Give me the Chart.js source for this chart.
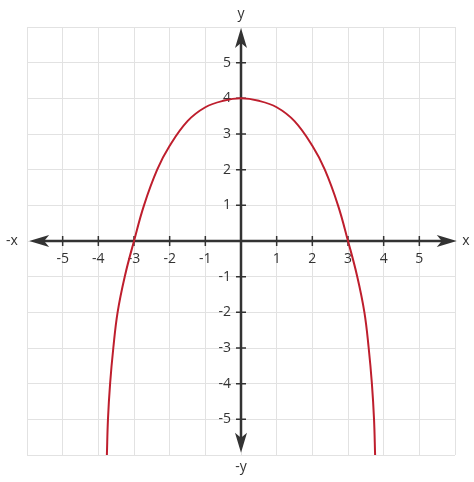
<!DOCTYPE html>
<html>
<head>
<meta charset="utf-8">
<script src="https://cdn.jsdelivr.net/npm/chart.js@4.4.1/dist/chart.umd.min.js"></script>
<style>
  html, body { margin: 0; padding: 0; background: #ffffff; }
</style>
</head>
<body>
<canvas id="myChart" width="474" height="482"></canvas>
<script>
// points
const curveX = [-3.76, -3.73, -3.67, -3.58, -3.46, -3.26, -3, -2.72, -2.35, -2, -1.5, -1, -0.5, 0,
                0.5, 1, 1.5, 2, 2.35, 2.72, 3, 3.26, 3.46, 3.58, 3.67, 3.73, 3.76];
const curveY = [-6, -5, -4, -3, -2, -1, 0, 1, 2, 2.67, 3.36, 3.75, 3.93, 4,
                3.93, 3.75, 3.36, 2.67, 2, 1, 0, -1, -2, -3, -4, -5, -6];

const xTicks = [-5, -4, -3, -2, -1, 1, 2, 3, 4, 5];
const yTicks = [5, 4, 3, 2, 1, -1, -2, -3, -4, -5];

const curvePoints = curveX.map((x, i) => ({ x: x, y: curveY[i] }));

function drawArrow(ctx, tx, ty, dx, dy) {
  const len = 20, hw = 6, notch = 15;
  const px = -dy, py = dx;
  ctx.beginPath();
  ctx.moveTo(tx, ty);
  ctx.lineTo(tx - dx * len + px * hw, ty - dy * len + py * hw);
  ctx.lineTo(tx - dx * notch, ty - dy * notch);
  ctx.lineTo(tx - dx * len - px * hw, ty - dy * len - py * hw);
  ctx.closePath();
  ctx.fill();
}

const axesPlugin = {
  id: 'axesPlugin',
  beforeDatasetsDraw(chart) {
    const ctx = chart.ctx;
    const xs = chart.scales.x, ys = chart.scales.y;
    const ox = xs.getPixelForValue(0), oy = ys.getPixelForValue(0);
    const left = xs.getPixelForValue(-5.94), right = xs.getPixelForValue(6.05);
    const top = ys.getPixelForValue(5.97), bottom = ys.getPixelForValue(-5.94);

    ctx.save();
    ctx.strokeStyle = '#333333';
    ctx.fillStyle = '#333333';
    ctx.lineWidth = 2.5;

    ctx.beginPath();
    ctx.moveTo(left + 10, oy);
    ctx.lineTo(right - 10, oy);
    ctx.moveTo(ox, top + 10);
    ctx.lineTo(ox, bottom - 10);
    ctx.stroke();

    drawArrow(ctx, left, oy, -1, 0);
    drawArrow(ctx, right, oy, 1, 0);
    drawArrow(ctx, ox, top, 0, -1);
    drawArrow(ctx, ox, bottom, 0, 1);

    // tick marks
    ctx.lineWidth = 1.5;
    ctx.beginPath();
    xTicks.forEach(v => {
      const p = xs.getPixelForValue(v);
      ctx.moveTo(p, oy - 5);
      ctx.lineTo(p, oy + 5);
    });
    yTicks.forEach(v => {
      const p = ys.getPixelForValue(v);
      ctx.moveTo(ox - 5, p);
      ctx.lineTo(ox + 5, p);
    });
    ctx.stroke();

    // tick labels
    ctx.font = '14px "Open Sans", sans-serif';
    ctx.textBaseline = 'middle';
    ctx.textAlign = 'center';
    xTicks.forEach(v => {
      ctx.fillText(String(v), xs.getPixelForValue(v), oy + 18);
    });
    ctx.textAlign = 'right';
    yTicks.forEach(v => {
      ctx.fillText(String(v), ox - 10, ys.getPixelForValue(v));
    });

    // axis names
    ctx.textAlign = 'center';
    ctx.fillText('y', ox, 14);
    ctx.fillText('-y', ox, 467);
    ctx.fillText('-x', 12, oy);
    ctx.fillText('x', 466, oy);
    ctx.restore();
  }
};

new Chart(document.getElementById('myChart'), {
  type: 'scatter',
  data: {
    datasets: [{
      data: curvePoints,
      showLine: true,
      borderColor: '#be1e2d',
      borderWidth: 2,
      pointRadius: 0,
      tension: 0.4,
      fill: false
    }]
  },
  options: {
    responsive: false,
    animation: false,
    layout: { padding: { left: 27, right: 19, top: 27, bottom: 27 } },
    plugins: {
      legend: { display: false },
      tooltip: { enabled: false }
    },
    scales: {
      x: {
        type: 'linear',
        min: -6, max: 6,
        ticks: { display: false, stepSize: 1 },
        grid: { color: '#e2e2e2', lineWidth: 1, drawTicks: false },
        border: { display: false }
      },
      y: {
        type: 'linear',
        min: -6, max: 6,
        ticks: { display: false, stepSize: 1 },
        grid: { color: '#e2e2e2', lineWidth: 1, drawTicks: false },
        border: { display: false }
      }
    }
  },
  plugins: [axesPlugin]
});
</script>
</body>
</html>
